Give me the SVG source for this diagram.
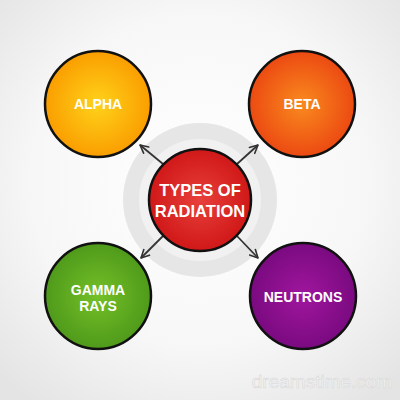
<svg xmlns="http://www.w3.org/2000/svg" width="400" height="400" viewBox="0 0 400 400">
<defs>
<radialGradient id="bg" cx="50%" cy="45%" r="70%">
<stop offset="0" stop-color="#ffffff"/><stop offset="0.6" stop-color="#f7f7f7"/><stop offset="1" stop-color="#e4e4e4"/>
</radialGradient>
<radialGradient id="gA" cx="50%" cy="50%" r="50%"><stop offset="0" stop-color="#ffd21a"/><stop offset="1" stop-color="#fa9e00"/></radialGradient>
<radialGradient id="gB" cx="50%" cy="50%" r="50%"><stop offset="0" stop-color="#f98a1e"/><stop offset="1" stop-color="#ec4a12"/></radialGradient>
<radialGradient id="gG" cx="50%" cy="50%" r="50%"><stop offset="0" stop-color="#74c028"/><stop offset="1" stop-color="#4f9a1a"/></radialGradient>
<radialGradient id="gN" cx="50%" cy="50%" r="50%"><stop offset="0" stop-color="#a0169e"/><stop offset="1" stop-color="#7a0a80"/></radialGradient>
<radialGradient id="gC" cx="50%" cy="50%" r="50%"><stop offset="0" stop-color="#e8403c"/><stop offset="1" stop-color="#d01818"/></radialGradient>
<marker id="ah" viewBox="0 0 10 10" refX="9" refY="5" markerWidth="10" markerHeight="10" markerUnits="userSpaceOnUse" orient="auto">
<path d="M1,1 L9,5 L1,9" fill="none" stroke="#333" stroke-width="1.6" stroke-linecap="round" stroke-linejoin="round"/>
</marker>
</defs>
<style>
.node{stroke:#111;stroke-width:2.5}
.lbl{font-family:"Liberation Sans",Arial,sans-serif;font-weight:bold;fill:#fff;text-anchor:middle;dominant-baseline:central}
.con{stroke:#333;stroke-width:1.8;fill:none;marker-end:url(#ah)}
</style>
<rect width="400" height="400" fill="url(#bg)"/>
<text x="322" y="388" font-family="Liberation Sans,Arial,sans-serif" font-size="19" fill="#f2f2f2" stroke="#d6d6d6" stroke-width="0.5" text-anchor="middle">dreamstime.com</text>
<g id="ring">
<circle cx="200" cy="200" r="69" fill="#f1f1f1" stroke="#e6e6e6" stroke-width="16"/>
</g>
<g id="connectors">
<line class="con" x1="163" y1="164" x2="140" y2="145"/>
<line class="con" x1="237" y1="164" x2="258" y2="145"/>
<line class="con" x1="163" y1="236" x2="141" y2="258"/>
<line class="con" x1="237" y1="236" x2="258" y2="258"/>
</g>
<g id="center">
<circle class="node" cx="200" cy="200" r="51" fill="url(#gC)"/>
<text class="lbl" x="200" y="190" font-size="16.5">TYPES OF</text>
<text class="lbl" x="200" y="211" font-size="16.5">RADIATION</text>
</g>
<g id="alpha">
<circle class="node" cx="98" cy="104" r="53" fill="url(#gA)"/>
<text class="lbl" x="98" y="104" font-size="14">ALPHA</text>
</g>
<g id="beta">
<circle class="node" cx="302" cy="104" r="53" fill="url(#gB)"/>
<text class="lbl" x="302" y="104" font-size="14">BETA</text>
</g>
<g id="gamma">
<circle class="node" cx="98" cy="296" r="53" fill="url(#gG)"/>
<text class="lbl" x="98" y="290" font-size="14">GAMMA</text>
<text class="lbl" x="98" y="306" font-size="14">RAYS</text>
</g>
<g id="neutrons">
<circle class="node" cx="303" cy="296" r="53" fill="url(#gN)"/>
<text class="lbl" x="303" y="297" font-size="14">NEUTRONS</text>
</g>
</svg>
